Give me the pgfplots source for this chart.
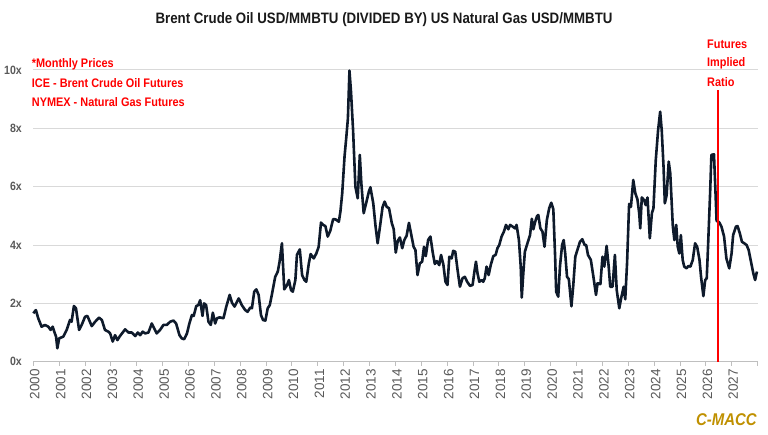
\documentclass[border=0pt]{standalone}
\usepackage{fontspec}
\setmainfont{Liberation Sans}
\newfontfamily\cond[FakeStretch=0.88]{Liberation Sans}
\usepackage{pgfplots}
\pgfplotsset{compat=1.18}

\definecolor{linecol}{HTML}{0E1A2B}
\definecolor{gridgray}{HTML}{D9D9D9}
\definecolor{axisgray}{HTML}{BFBFBF}
\definecolor{labgray}{HTML}{595959}
\definecolor{brandgold}{HTML}{BF9000}
\definecolor{annred}{HTML}{FF0000}

\begin{document}
\begin{tikzpicture}
\path[use as bounding box] (-33.3pt,-72.3pt) rectangle (734.7pt,361.7pt);
\begin{axis}[
  at={(0pt,0pt)}, anchor=south west,
  scale only axis, width=724.4pt, height=291.7pt,
  xmin=2000, xmax=2028, ymin=0, ymax=10,
  axis x line=bottom, axis y line=left,
  axis line style={-},
  x axis line style={draw=axisgray, line width=1pt},
  y axis line style={draw=none},
  ymajorgrids, grid style={draw=gridgray, line width=1pt},
  ytick={0,2,4,6,8,10},
  yticklabels={0x,2x,4x,6x,8x,10x},
  xtick={2000,...,2027},
  extra x ticks={2028}, extra x tick labels={},
  /pgf/number format/1000 sep={},
  /pgf/number format/assume math mode=true,
  tick align=outside, major tick length=4pt,
  xtick style={draw=axisgray, line width=1pt},
  ytick style={draw=none},
  xticklabel style={rotate=90, anchor=east, yshift=-1.5pt, font=\fontsize{13.5}{14}\selectfont, text=labgray},
  yticklabel style={xshift=-4pt, font=\cond\bfseries\fontsize{12}{12}\selectfont, text=labgray},
  clip=false,
]
% Brent / Henry Hub price ratio, monthly
\addplot[line width=2.6pt, color=linecol, line join=round] table {
x y
2000.00 1.66
2000.10 1.77
2000.19 1.49
2000.32 1.20
2000.45 1.26
2000.58 1.20
2000.67 1.09
2000.75 1.20
2000.81 1.03
2000.88 0.86
2000.93 0.46
2001.00 0.80
2001.16 0.86
2001.29 1.09
2001.42 1.43
2001.48 1.37
2001.57 1.91
2001.65 1.83
2001.77 1.09
2001.87 1.26
2002.00 1.54
2002.09 1.57
2002.26 1.22
2002.39 1.37
2002.54 1.51
2002.65 1.43
2002.77 1.09
2002.90 1.03
2002.97 0.97
2003.07 0.69
2003.16 0.91
2003.25 0.74
2003.35 0.88
2003.55 1.11
2003.68 1.00
2003.81 1.00
2003.94 0.88
2004.04 1.00
2004.13 0.91
2004.23 1.03
2004.32 0.97
2004.45 1.00
2004.58 1.31
2004.77 0.97
2004.90 1.09
2005.03 1.26
2005.16 1.26
2005.29 1.37
2005.42 1.41
2005.52 1.31
2005.65 0.91
2005.74 0.80
2005.83 0.77
2005.94 0.97
2006.03 1.30
2006.13 1.60
2006.20 1.57
2006.30 1.91
2006.38 1.94
2006.45 2.11
2006.54 1.57
2006.60 2.00
2006.68 1.94
2006.77 1.37
2006.86 1.26
2006.94 1.68
2007.03 1.31
2007.10 1.49
2007.20 1.52
2007.35 1.49
2007.46 1.89
2007.59 2.29
2007.68 2.02
2007.78 1.89
2007.94 2.17
2008.06 1.94
2008.19 1.77
2008.28 1.71
2008.39 1.86
2008.45 1.83
2008.54 2.40
2008.62 2.48
2008.71 2.29
2008.80 1.60
2008.88 1.43
2008.97 1.41
2009.06 1.83
2009.14 1.94
2009.23 2.34
2009.35 2.91
2009.45 3.09
2009.52 3.43
2009.61 4.06
2009.70 2.48
2009.81 2.63
2009.88 2.80
2009.96 2.46
2010.03 2.40
2010.13 2.80
2010.19 3.66
2010.30 3.85
2010.39 2.97
2010.48 2.80
2010.55 2.74
2010.65 3.37
2010.72 3.69
2010.84 3.54
2010.94 3.71
2011.03 3.94
2011.12 4.77
2011.20 4.69
2011.29 4.65
2011.38 4.29
2011.48 4.49
2011.59 4.89
2011.68 4.88
2011.81 4.80
2011.87 5.14
2011.94 5.77
2012.03 7.03
2012.10 7.71
2012.16 8.34
2012.22 9.98
2012.28 9.26
2012.36 7.94
2012.45 6.00
2012.54 5.60
2012.62 7.09
2012.68 6.11
2012.77 5.09
2012.88 5.49
2012.97 5.83
2013.03 5.98
2013.14 5.43
2013.23 4.63
2013.31 4.06
2013.40 4.63
2013.50 5.30
2013.58 5.49
2013.66 5.31
2013.75 5.26
2013.86 4.74
2013.93 4.55
2014.01 3.74
2014.09 4.15
2014.17 4.26
2014.26 3.89
2014.34 4.17
2014.43 4.32
2014.52 4.76
2014.61 4.35
2014.70 3.94
2014.77 3.83
2014.85 2.97
2014.94 3.37
2015.03 3.43
2015.10 3.94
2015.17 3.62
2015.26 4.17
2015.35 4.29
2015.44 3.74
2015.52 3.35
2015.60 3.45
2015.69 3.31
2015.76 3.66
2015.85 3.33
2015.93 2.74
2016.01 2.63
2016.08 3.60
2016.17 3.54
2016.23 3.80
2016.31 3.77
2016.40 3.14
2016.49 2.57
2016.59 2.86
2016.68 2.91
2016.77 2.74
2016.88 2.60
2016.98 2.63
2017.05 3.09
2017.11 3.43
2017.17 3.03
2017.24 2.74
2017.33 2.80
2017.39 2.74
2017.45 2.86
2017.52 3.26
2017.60 2.97
2017.68 3.31
2017.78 3.62
2017.87 3.66
2017.94 3.89
2018.01 4.00
2018.10 4.29
2018.19 4.46
2018.27 4.69
2018.36 4.54
2018.43 4.69
2018.53 4.63
2018.62 4.57
2018.68 4.69
2018.77 4.17
2018.84 3.26
2018.88 2.20
2018.94 3.03
2019.00 3.77
2019.10 4.06
2019.20 4.34
2019.27 4.90
2019.33 4.54
2019.39 4.77
2019.47 4.99
2019.52 5.03
2019.60 4.57
2019.68 4.46
2019.76 3.94
2019.85 4.86
2019.94 5.26
2020.02 5.45
2020.10 5.23
2020.17 3.60
2020.21 2.40
2020.29 2.23
2020.36 3.30
2020.44 4.00
2020.50 4.17
2020.56 3.71
2020.63 2.91
2020.70 2.83
2020.80 1.90
2020.87 2.60
2020.95 3.60
2021.03 3.83
2021.13 4.11
2021.22 4.20
2021.31 4.00
2021.37 4.00
2021.44 3.66
2021.55 3.49
2021.64 2.97
2021.75 2.29
2021.81 2.69
2021.92 2.66
2022.00 3.60
2022.07 3.26
2022.16 3.97
2022.24 3.26
2022.30 2.57
2022.39 2.57
2022.48 3.66
2022.55 2.46
2022.65 1.83
2022.72 2.17
2022.82 2.57
2022.88 2.14
2022.95 3.37
2023.03 5.41
2023.10 5.31
2023.19 6.23
2023.27 5.77
2023.35 5.57
2023.42 5.09
2023.46 4.57
2023.52 5.63
2023.61 5.54
2023.67 5.37
2023.74 5.63
2023.83 4.23
2023.91 5.09
2023.97 5.26
2024.06 6.91
2024.15 7.94
2024.23 8.57
2024.29 7.94
2024.36 6.69
2024.41 5.43
2024.48 5.71
2024.56 6.86
2024.62 6.46
2024.72 4.63
2024.78 4.17
2024.85 4.69
2024.91 3.94
2024.97 3.71
2025.03 4.34
2025.10 3.49
2025.16 3.26
2025.25 3.20
2025.32 3.28
2025.40 3.26
2025.49 3.49
2025.58 4.06
2025.66 3.94
2025.75 3.49
2025.81 2.91
2025.90 2.25
2025.97 2.80
2026.03 2.86
2026.08 3.94
2026.16 5.77
2026.21 7.09
2026.31 7.11
2026.37 5.77
2026.41 4.83
2026.51 4.78
2026.60 4.63
2026.70 4.29
2026.79 3.54
2026.90 3.20
2026.99 3.71
2027.05 4.34
2027.16 4.63
2027.22 4.65
2027.31 4.40
2027.39 4.11
2027.48 4.06
2027.57 4.00
2027.65 3.83
2027.74 3.43
2027.83 3.03
2027.90 2.80
2027.97 3.09
};
% start of the futures-implied part of the series
\addplot[color=annred, line width=2pt] coordinates {(2026.47,0) (2026.47,9.31)};
\end{axis}

% title
\node[font=\cond\bfseries\fontsize{15.1}{16}\selectfont, text=black!90] at (350.7pt,341.7pt) {Brent Crude Oil USD/MMBTU (DIVIDED BY) US Natural Gas USD/MMBTU};

% notes
\begin{scope}[every node/.style={font=\cond\bfseries\fontsize{12.4}{13}\selectfont, text=annred, anchor=west, inner sep=0pt}]
\node at (-1.6pt,297.7pt) {*Monthly Prices};
\node at (-1.6pt,278.7pt) {ICE - Brent Crude Oil Futures};
\node at (-1.6pt,259.7pt) {NYMEX - Natural Gas Futures};
\node at (673.7pt,317.7pt) {Futures};
\node at (673.7pt,298.7pt) {Implied};
\node at (673.7pt,279.7pt) {Ratio};
\end{scope}

% brand
\node[font=\cond\bfseries\itshape\fontsize{17}{18}\selectfont, text=brandgold, anchor=east, inner sep=0pt] at (723.7pt,-58.3pt) {C-MACC};
\end{tikzpicture}
\end{document}
